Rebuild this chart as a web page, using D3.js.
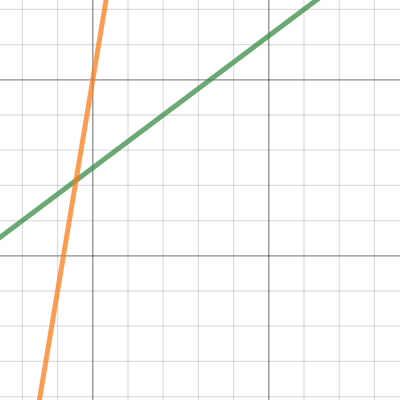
<!DOCTYPE html>
<html>
<head>
<meta charset="utf-8">
<script src="https://cdn.jsdelivr.net/npm/d3@7"></script>
<style>
  html,body{margin:0;padding:0;background:#fff;}
  svg{display:block;}
  .minor{stroke:#000;stroke-opacity:.13;stroke-width:1.3;}
  .major{stroke:#000;stroke-opacity:.45;stroke-width:1.3;}
  .curve{fill:none;stroke-width:5;stroke-linecap:round;stroke-opacity:.75;}
</style>
</head>
<body>
<svg id="graph"></svg>
<script>
// grid positions (graph units)
const gridX  = [-2,-1,0,1,2,3,4,5,6,7,8];
const gridY  = [-4,-3,-2,-1,0,1,2,3,4,5,6,7];
const majorX = [0,5];
const majorY = [0,5];

// lines, two points each
const greenX  = [-3, 9];
const greenY  = [0.25, 9.25];
const orangeX = [-1.6, 0.5];
const orangeY = [-4.6, 8];

const W=400, H=400;
const xDom=[-2.636, 8.727], yDom=[-4.097, 7.267];

const svg=d3.select('#graph').attr('width',W).attr('height',H);
const x=d3.scaleLinear().domain(xDom).range([0,W]);
const y=d3.scaleLinear().domain(yDom).range([H,0]);

svg.append('clipPath').attr('id','clip').append('rect').attr('width',W).attr('height',H);

const g=svg.append('g');
// minor grid
g.append('g').selectAll('line').data(gridX.filter(v=>!majorX.includes(v))).join('line')
  .attr('class','minor').attr('x1',d=>x(d)).attr('x2',d=>x(d)).attr('y1',0).attr('y2',H);
g.append('g').selectAll('line').data(gridY.filter(v=>!majorY.includes(v))).join('line')
  .attr('class','minor').attr('y1',d=>y(d)).attr('y2',d=>y(d)).attr('x1',0).attr('x2',W);
// major grid
g.append('g').selectAll('line').data(majorX).join('line')
  .attr('class','major').attr('x1',d=>x(d)).attr('x2',d=>x(d)).attr('y1',0).attr('y2',H);
g.append('g').selectAll('line').data(majorY).join('line')
  .attr('class','major').attr('y1',d=>y(d)).attr('y2',d=>y(d)).attr('x1',0).attr('x2',W);

const line=d3.line().x(d=>x(d[0])).y(d=>y(d[1]));
const series=[
  {xs:greenX, ys:greenY, color:'#388c46'},
  {xs:orangeX,ys:orangeY,color:'#fa7e19'}
];
const cg=svg.append('g').attr('clip-path','url(#clip)');
cg.selectAll('path').data(series).join('path')
  .attr('class','curve')
  .attr('stroke',d=>d.color)
  .attr('d',d=>line(d.xs.map((v,i)=>[v,d.ys[i]])));
</script>
</body>
</html>
